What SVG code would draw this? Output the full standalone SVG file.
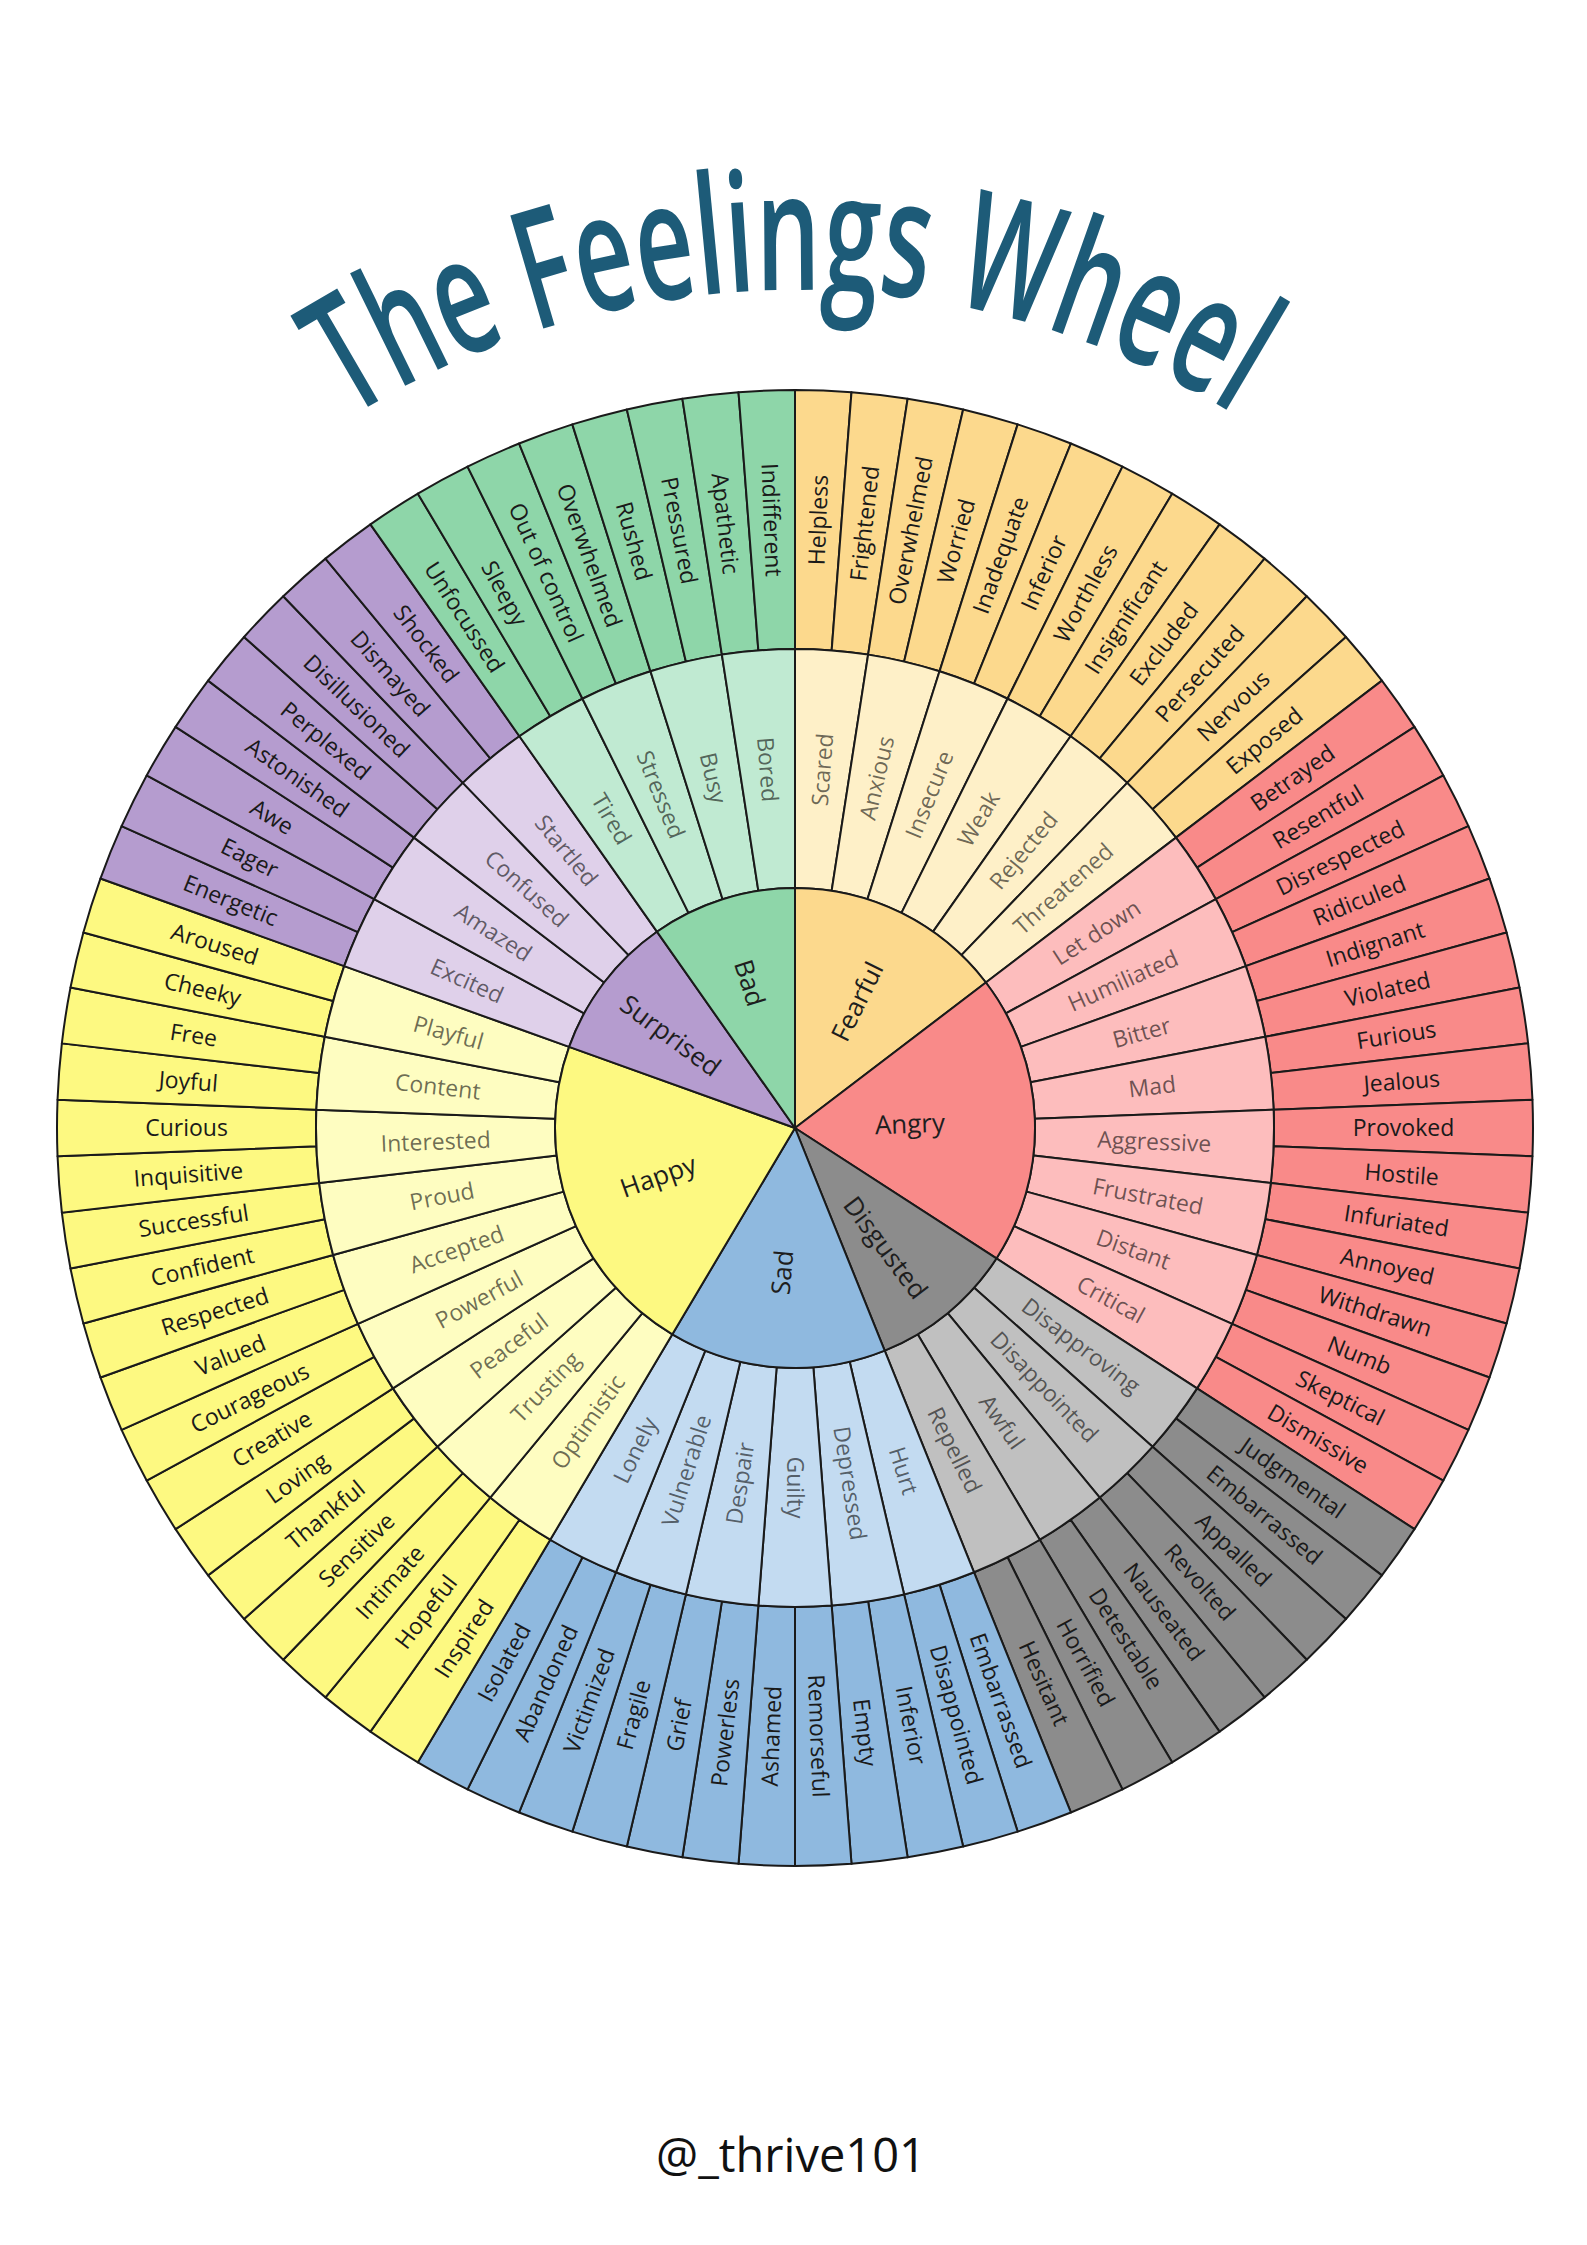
<svg xmlns="http://www.w3.org/2000/svg" xmlns:xlink="http://www.w3.org/1999/xlink" width="1587" height="2245" viewBox="0 0 1587 2245">
<style>
.w{stroke:#1a1a1a;stroke-width:2;stroke-linejoin:round}
.fe1{fill:#FCD98D}.fe2{fill:#FEF0C8}
.an1{fill:#F98A89}.an2{fill:#FDBDBD}
.di1{fill:#8C8C8C}.di2{fill:#C0C0C0}
.sa1{fill:#8FB9DF}.sa2{fill:#C3DBF1}
.ha1{fill:#FDF981}.ha2{fill:#FEFDC1}
.su1{fill:#B59CCF}.su2{fill:#DFD0EA}
.ba1{fill:#8ED6A9}.ba2{fill:#C0EAD2}
text{font-family:"Open Sans","Liberation Sans",sans-serif;text-anchor:middle}
.to{font-size:23px;fill:#1a1a1a}
.tm{font-size:23px;fill:#000;fill-opacity:0.58}
.ti{font-size:26px;fill:#1e1e1e}
</style>
<defs>
<path id="ow" d="M 766.732 390.542 A 738 738 0 0 1 823.268 390.542 L 813.347 649.352 A 479 479 0 0 0 776.653 649.352 Z"/>
<path id="mw" d="M 758.333 650.405 A 479 479 0 0 1 831.667 650.405 L 813.372 888.704 A 240 240 0 0 0 776.628 888.704 Z"/>
<path id="p8" d="M 795 1128 L 795 888 A 240 240 0 0 1 933.077 931.697 Z"/>
<path id="p12" d="M 795 1128 L 795 888 A 240 240 0 0 1 985.871 982.506 Z"/>
<path id="p16" d="M 795 1128 L 795 888 A 240 240 0 0 1 1020.876 1046.876 Z"/>
<path id="p18" d="M 795 1128 L 795 888 A 240 240 0 0 1 1030.610 1082.304 Z"/>
<path id="arc" d="M 256.34 486.06 A 838 838 0 0 1 1333.66 486.06" fill="none"/>
</defs>
<rect width="1587" height="2245" fill="#ffffff"/>

<g id="title">
<text font-size="165" font-weight="600" fill="#1D5B78"><textPath href="#arc" startOffset="49.6%" textLength="932" lengthAdjust="spacingAndGlyphs">The Feelings Wheel</textPath></text>
</g>

<g id="outer-ring">
<g id="o00" transform="rotate(2.195 795 1128)"><use href="#ow" class="fe1 w"/><text class="to" x="795" y="527.5" transform="rotate(-90 795 519.5)">Helpless</text></g>
<g id="o01" transform="rotate(6.585 795 1128)"><use href="#ow" class="fe1 w"/><text class="to" x="795" y="527.5" transform="rotate(-90 795 519.5)">Frightened</text></g>
<g id="o02" transform="rotate(10.976 795 1128)"><use href="#ow" class="fe1 w"/><text class="to" x="795" y="527.5" transform="rotate(-90 795 519.5)">Overwhelmed</text></g>
<g id="o03" transform="rotate(15.366 795 1128)"><use href="#ow" class="fe1 w"/><text class="to" x="795" y="527.5" transform="rotate(-90 795 519.5)">Worried</text></g>
<g id="o04" transform="rotate(19.756 795 1128)"><use href="#ow" class="fe1 w"/><text class="to" x="795" y="527.5" transform="rotate(-90 795 519.5)">Inadequate</text></g>
<g id="o05" transform="rotate(24.146 795 1128)"><use href="#ow" class="fe1 w"/><text class="to" x="795" y="527.5" transform="rotate(-90 795 519.5)">Inferior</text></g>
<g id="o06" transform="rotate(28.537 795 1128)"><use href="#ow" class="fe1 w"/><text class="to" x="795" y="527.5" transform="rotate(-90 795 519.5)">Worthless</text></g>
<g id="o07" transform="rotate(32.927 795 1128)"><use href="#ow" class="fe1 w"/><text class="to" x="795" y="527.5" transform="rotate(-90 795 519.5)">Insignificant</text></g>
<g id="o08" transform="rotate(37.317 795 1128)"><use href="#ow" class="fe1 w"/><text class="to" x="795" y="527.5" transform="rotate(-90 795 519.5)">Excluded</text></g>
<g id="o09" transform="rotate(41.707 795 1128)"><use href="#ow" class="fe1 w"/><text class="to" x="795" y="527.5" transform="rotate(-90 795 519.5)">Persecuted</text></g>
<g id="o10" transform="rotate(46.098 795 1128)"><use href="#ow" class="fe1 w"/><text class="to" x="795" y="527.5" transform="rotate(-90 795 519.5)">Nervous</text></g>
<g id="o11" transform="rotate(50.488 795 1128)"><use href="#ow" class="fe1 w"/><text class="to" x="795" y="527.5" transform="rotate(-90 795 519.5)">Exposed</text></g>
<g id="o12" transform="rotate(54.878 795 1128)"><use href="#ow" class="an1 w"/><text class="to" x="795" y="527.5" transform="rotate(-90 795 519.5)">Betrayed</text></g>
<g id="o13" transform="rotate(59.268 795 1128)"><use href="#ow" class="an1 w"/><text class="to" x="795" y="527.5" transform="rotate(-90 795 519.5)">Resentful</text></g>
<g id="o14" transform="rotate(63.659 795 1128)"><use href="#ow" class="an1 w"/><text class="to" x="795" y="527.5" transform="rotate(-90 795 519.5)">Disrespected</text></g>
<g id="o15" transform="rotate(68.049 795 1128)"><use href="#ow" class="an1 w"/><text class="to" x="795" y="527.5" transform="rotate(-90 795 519.5)">Ridiculed</text></g>
<g id="o16" transform="rotate(72.439 795 1128)"><use href="#ow" class="an1 w"/><text class="to" x="795" y="527.5" transform="rotate(-90 795 519.5)">Indignant</text></g>
<g id="o17" transform="rotate(76.829 795 1128)"><use href="#ow" class="an1 w"/><text class="to" x="795" y="527.5" transform="rotate(-90 795 519.5)">Violated</text></g>
<g id="o18" transform="rotate(81.220 795 1128)"><use href="#ow" class="an1 w"/><text class="to" x="795" y="527.5" transform="rotate(-90 795 519.5)">Furious</text></g>
<g id="o19" transform="rotate(85.610 795 1128)"><use href="#ow" class="an1 w"/><text class="to" x="795" y="527.5" transform="rotate(-90 795 519.5)">Jealous</text></g>
<g id="o20" transform="rotate(90.000 795 1128)"><use href="#ow" class="an1 w"/><text class="to" x="795" y="527.5" transform="rotate(-90 795 519.5)">Provoked</text></g>
<g id="o21" transform="rotate(94.390 795 1128)"><use href="#ow" class="an1 w"/><text class="to" x="795" y="527.5" transform="rotate(-90 795 519.5)">Hostile</text></g>
<g id="o22" transform="rotate(98.780 795 1128)"><use href="#ow" class="an1 w"/><text class="to" x="795" y="527.5" transform="rotate(-90 795 519.5)">Infuriated</text></g>
<g id="o23" transform="rotate(103.171 795 1128)"><use href="#ow" class="an1 w"/><text class="to" x="795" y="527.5" transform="rotate(-90 795 519.5)">Annoyed</text></g>
<g id="o24" transform="rotate(107.561 795 1128)"><use href="#ow" class="an1 w"/><text class="to" x="795" y="527.5" transform="rotate(-90 795 519.5)">Withdrawn</text></g>
<g id="o25" transform="rotate(111.951 795 1128)"><use href="#ow" class="an1 w"/><text class="to" x="795" y="527.5" transform="rotate(-90 795 519.5)">Numb</text></g>
<g id="o26" transform="rotate(116.341 795 1128)"><use href="#ow" class="an1 w"/><text class="to" x="795" y="527.5" transform="rotate(-90 795 519.5)">Skeptical</text></g>
<g id="o27" transform="rotate(120.732 795 1128)"><use href="#ow" class="an1 w"/><text class="to" x="795" y="527.5" transform="rotate(-90 795 519.5)">Dismissive</text></g>
<g id="o28" transform="rotate(125.122 795 1128)"><use href="#ow" class="di1 w"/><text class="to" x="795" y="527.5" transform="rotate(-90 795 519.5)">Judgmental</text></g>
<g id="o29" transform="rotate(129.512 795 1128)"><use href="#ow" class="di1 w"/><text class="to" x="795" y="527.5" transform="rotate(-90 795 519.5)">Embarrassed</text></g>
<g id="o30" transform="rotate(133.902 795 1128)"><use href="#ow" class="di1 w"/><text class="to" x="795" y="527.5" transform="rotate(-90 795 519.5)">Appalled</text></g>
<g id="o31" transform="rotate(138.293 795 1128)"><use href="#ow" class="di1 w"/><text class="to" x="795" y="527.5" transform="rotate(-90 795 519.5)">Revolted</text></g>
<g id="o32" transform="rotate(142.683 795 1128)"><use href="#ow" class="di1 w"/><text class="to" x="795" y="527.5" transform="rotate(-90 795 519.5)">Nauseated</text></g>
<g id="o33" transform="rotate(147.073 795 1128)"><use href="#ow" class="di1 w"/><text class="to" x="795" y="527.5" transform="rotate(-90 795 519.5)">Detestable</text></g>
<g id="o34" transform="rotate(151.463 795 1128)"><use href="#ow" class="di1 w"/><text class="to" x="795" y="527.5" transform="rotate(-90 795 519.5)">Horrified</text></g>
<g id="o35" transform="rotate(155.854 795 1128)"><use href="#ow" class="di1 w"/><text class="to" x="795" y="527.5" transform="rotate(-90 795 519.5)">Hesitant</text></g>
<g id="o36" transform="rotate(160.244 795 1128)"><use href="#ow" class="sa1 w"/><text class="to" x="795" y="527.5" transform="rotate(-90 795 519.5)">Embarrassed</text></g>
<g id="o37" transform="rotate(164.634 795 1128)"><use href="#ow" class="sa1 w"/><text class="to" x="795" y="527.5" transform="rotate(-90 795 519.5)">Disappointed</text></g>
<g id="o38" transform="rotate(169.024 795 1128)"><use href="#ow" class="sa1 w"/><text class="to" x="795" y="527.5" transform="rotate(-90 795 519.5)">Inferior</text></g>
<g id="o39" transform="rotate(173.415 795 1128)"><use href="#ow" class="sa1 w"/><text class="to" x="795" y="527.5" transform="rotate(-90 795 519.5)">Empty</text></g>
<g id="o40" transform="rotate(177.805 795 1128)"><use href="#ow" class="sa1 w"/><text class="to" x="795" y="527.5" transform="rotate(-90 795 519.5)">Remorseful</text></g>
<g id="o41" transform="rotate(182.195 795 1128)"><use href="#ow" class="sa1 w"/><text class="to" x="795" y="527.5" transform="rotate(90 795 519.5)">Ashamed</text></g>
<g id="o42" transform="rotate(186.585 795 1128)"><use href="#ow" class="sa1 w"/><text class="to" x="795" y="527.5" transform="rotate(90 795 519.5)">Powerless</text></g>
<g id="o43" transform="rotate(190.976 795 1128)"><use href="#ow" class="sa1 w"/><text class="to" x="795" y="527.5" transform="rotate(90 795 519.5)">Grief</text></g>
<g id="o44" transform="rotate(195.366 795 1128)"><use href="#ow" class="sa1 w"/><text class="to" x="795" y="527.5" transform="rotate(90 795 519.5)">Fragile</text></g>
<g id="o45" transform="rotate(199.756 795 1128)"><use href="#ow" class="sa1 w"/><text class="to" x="795" y="527.5" transform="rotate(90 795 519.5)">Victimized</text></g>
<g id="o46" transform="rotate(204.146 795 1128)"><use href="#ow" class="sa1 w"/><text class="to" x="795" y="527.5" transform="rotate(90 795 519.5)">Abandoned</text></g>
<g id="o47" transform="rotate(208.537 795 1128)"><use href="#ow" class="sa1 w"/><text class="to" x="795" y="527.5" transform="rotate(90 795 519.5)">Isolated</text></g>
<g id="o48" transform="rotate(212.927 795 1128)"><use href="#ow" class="ha1 w"/><text class="to" x="795" y="527.5" transform="rotate(90 795 519.5)">Inspired</text></g>
<g id="o49" transform="rotate(217.317 795 1128)"><use href="#ow" class="ha1 w"/><text class="to" x="795" y="527.5" transform="rotate(90 795 519.5)">Hopeful</text></g>
<g id="o50" transform="rotate(221.707 795 1128)"><use href="#ow" class="ha1 w"/><text class="to" x="795" y="527.5" transform="rotate(90 795 519.5)">Intimate</text></g>
<g id="o51" transform="rotate(226.098 795 1128)"><use href="#ow" class="ha1 w"/><text class="to" x="795" y="527.5" transform="rotate(90 795 519.5)">Sensitive</text></g>
<g id="o52" transform="rotate(230.488 795 1128)"><use href="#ow" class="ha1 w"/><text class="to" x="795" y="527.5" transform="rotate(90 795 519.5)">Thankful</text></g>
<g id="o53" transform="rotate(234.878 795 1128)"><use href="#ow" class="ha1 w"/><text class="to" x="795" y="527.5" transform="rotate(90 795 519.5)">Loving</text></g>
<g id="o54" transform="rotate(239.268 795 1128)"><use href="#ow" class="ha1 w"/><text class="to" x="795" y="527.5" transform="rotate(90 795 519.5)">Creative</text></g>
<g id="o55" transform="rotate(243.659 795 1128)"><use href="#ow" class="ha1 w"/><text class="to" x="795" y="527.5" transform="rotate(90 795 519.5)">Courageous</text></g>
<g id="o56" transform="rotate(248.049 795 1128)"><use href="#ow" class="ha1 w"/><text class="to" x="795" y="527.5" transform="rotate(90 795 519.5)">Valued</text></g>
<g id="o57" transform="rotate(252.439 795 1128)"><use href="#ow" class="ha1 w"/><text class="to" x="795" y="527.5" transform="rotate(90 795 519.5)">Respected</text></g>
<g id="o58" transform="rotate(256.829 795 1128)"><use href="#ow" class="ha1 w"/><text class="to" x="795" y="527.5" transform="rotate(90 795 519.5)">Confident</text></g>
<g id="o59" transform="rotate(261.220 795 1128)"><use href="#ow" class="ha1 w"/><text class="to" x="795" y="527.5" transform="rotate(90 795 519.5)">Successful</text></g>
<g id="o60" transform="rotate(265.610 795 1128)"><use href="#ow" class="ha1 w"/><text class="to" x="795" y="527.5" transform="rotate(90 795 519.5)">Inquisitive</text></g>
<g id="o61" transform="rotate(270.000 795 1128)"><use href="#ow" class="ha1 w"/><text class="to" x="795" y="527.5" transform="rotate(90 795 519.5)">Curious</text></g>
<g id="o62" transform="rotate(274.390 795 1128)"><use href="#ow" class="ha1 w"/><text class="to" x="795" y="527.5" transform="rotate(90 795 519.5)">Joyful</text></g>
<g id="o63" transform="rotate(278.780 795 1128)"><use href="#ow" class="ha1 w"/><text class="to" x="795" y="527.5" transform="rotate(90 795 519.5)">Free</text></g>
<g id="o64" transform="rotate(283.171 795 1128)"><use href="#ow" class="ha1 w"/><text class="to" x="795" y="527.5" transform="rotate(90 795 519.5)">Cheeky</text></g>
<g id="o65" transform="rotate(287.561 795 1128)"><use href="#ow" class="ha1 w"/><text class="to" x="795" y="527.5" transform="rotate(90 795 519.5)">Aroused</text></g>
<g id="o66" transform="rotate(291.951 795 1128)"><use href="#ow" class="su1 w"/><text class="to" x="795" y="527.5" transform="rotate(90 795 519.5)">Energetic</text></g>
<g id="o67" transform="rotate(296.341 795 1128)"><use href="#ow" class="su1 w"/><text class="to" x="795" y="527.5" transform="rotate(90 795 519.5)">Eager</text></g>
<g id="o68" transform="rotate(300.732 795 1128)"><use href="#ow" class="su1 w"/><text class="to" x="795" y="527.5" transform="rotate(90 795 519.5)">Awe</text></g>
<g id="o69" transform="rotate(305.122 795 1128)"><use href="#ow" class="su1 w"/><text class="to" x="795" y="527.5" transform="rotate(90 795 519.5)">Astonished</text></g>
<g id="o70" transform="rotate(309.512 795 1128)"><use href="#ow" class="su1 w"/><text class="to" x="795" y="527.5" transform="rotate(90 795 519.5)">Perplexed</text></g>
<g id="o71" transform="rotate(313.902 795 1128)"><use href="#ow" class="su1 w"/><text class="to" x="795" y="527.5" transform="rotate(90 795 519.5)">Disillusioned</text></g>
<g id="o72" transform="rotate(318.293 795 1128)"><use href="#ow" class="su1 w"/><text class="to" x="795" y="527.5" transform="rotate(90 795 519.5)">Dismayed</text></g>
<g id="o73" transform="rotate(322.683 795 1128)"><use href="#ow" class="su1 w"/><text class="to" x="795" y="527.5" transform="rotate(90 795 519.5)">Shocked</text></g>
<g id="o74" transform="rotate(327.073 795 1128)"><use href="#ow" class="ba1 w"/><text class="to" x="795" y="527.5" transform="rotate(90 795 519.5)">Unfocussed</text></g>
<g id="o75" transform="rotate(331.463 795 1128)"><use href="#ow" class="ba1 w"/><text class="to" x="795" y="527.5" transform="rotate(90 795 519.5)">Sleepy</text></g>
<g id="o76" transform="rotate(335.854 795 1128)"><use href="#ow" class="ba1 w"/><text class="to" x="795" y="527.5" transform="rotate(90 795 519.5)">Out of control</text></g>
<g id="o77" transform="rotate(340.244 795 1128)"><use href="#ow" class="ba1 w"/><text class="to" x="795" y="527.5" transform="rotate(90 795 519.5)">Overwhelmed</text></g>
<g id="o78" transform="rotate(344.634 795 1128)"><use href="#ow" class="ba1 w"/><text class="to" x="795" y="527.5" transform="rotate(90 795 519.5)">Rushed</text></g>
<g id="o79" transform="rotate(349.024 795 1128)"><use href="#ow" class="ba1 w"/><text class="to" x="795" y="527.5" transform="rotate(90 795 519.5)">Pressured</text></g>
<g id="o80" transform="rotate(353.415 795 1128)"><use href="#ow" class="ba1 w"/><text class="to" x="795" y="527.5" transform="rotate(90 795 519.5)">Apathetic</text></g>
<g id="o81" transform="rotate(357.805 795 1128)"><use href="#ow" class="ba1 w"/><text class="to" x="795" y="527.5" transform="rotate(90 795 519.5)">Indifferent</text></g>
</g>

<g id="middle-ring">
<g id="m00" transform="rotate(4.390 795 1128)"><use href="#mw" class="fe2 w"/><text class="tm" x="795" y="776.5" transform="rotate(-90 795 768.5)">Scared</text></g>
<g id="m01" transform="rotate(13.171 795 1128)"><use href="#mw" class="fe2 w"/><text class="tm" x="795" y="776.5" transform="rotate(-90 795 768.5)">Anxious</text></g>
<g id="m02" transform="rotate(21.951 795 1128)"><use href="#mw" class="fe2 w"/><text class="tm" x="795" y="776.5" transform="rotate(-90 795 768.5)">Insecure</text></g>
<g id="m03" transform="rotate(30.732 795 1128)"><use href="#mw" class="fe2 w"/><text class="tm" x="795" y="776.5" transform="rotate(-90 795 768.5)">Weak</text></g>
<g id="m04" transform="rotate(39.512 795 1128)"><use href="#mw" class="fe2 w"/><text class="tm" x="795" y="776.5" transform="rotate(-90 795 768.5)">Rejected</text></g>
<g id="m05" transform="rotate(48.293 795 1128)"><use href="#mw" class="fe2 w"/><text class="tm" x="795" y="776.5" transform="rotate(-90 795 768.5)">Threatened</text></g>
<g id="m06" transform="rotate(57.073 795 1128)"><use href="#mw" class="an2 w"/><text class="tm" x="795" y="776.5" transform="rotate(-90 795 768.5)">Let down</text></g>
<g id="m07" transform="rotate(65.854 795 1128)"><use href="#mw" class="an2 w"/><text class="tm" x="795" y="776.5" transform="rotate(-90 795 768.5)">Humiliated</text></g>
<g id="m08" transform="rotate(74.634 795 1128)"><use href="#mw" class="an2 w"/><text class="tm" x="795" y="776.5" transform="rotate(-90 795 768.5)">Bitter</text></g>
<g id="m09" transform="rotate(83.415 795 1128)"><use href="#mw" class="an2 w"/><text class="tm" x="795" y="776.5" transform="rotate(-90 795 768.5)">Mad</text></g>
<g id="m10" transform="rotate(92.195 795 1128)"><use href="#mw" class="an2 w"/><text class="tm" x="795" y="776.5" transform="rotate(-90 795 768.5)">Aggressive</text></g>
<g id="m11" transform="rotate(100.976 795 1128)"><use href="#mw" class="an2 w"/><text class="tm" x="795" y="776.5" transform="rotate(-90 795 768.5)">Frustrated</text></g>
<g id="m12" transform="rotate(109.756 795 1128)"><use href="#mw" class="an2 w"/><text class="tm" x="795" y="776.5" transform="rotate(-90 795 768.5)">Distant</text></g>
<g id="m13" transform="rotate(118.537 795 1128)"><use href="#mw" class="an2 w"/><text class="tm" x="795" y="776.5" transform="rotate(-90 795 768.5)">Critical</text></g>
<g id="m14" transform="rotate(127.317 795 1128)"><use href="#mw" class="di2 w"/><text class="tm" x="795" y="776.5" transform="rotate(-90 795 768.5)">Disapproving</text></g>
<g id="m15" transform="rotate(136.098 795 1128)"><use href="#mw" class="di2 w"/><text class="tm" x="795" y="776.5" transform="rotate(-90 795 768.5)">Disappointed</text></g>
<g id="m16" transform="rotate(144.878 795 1128)"><use href="#mw" class="di2 w"/><text class="tm" x="795" y="776.5" transform="rotate(-90 795 768.5)">Awful</text></g>
<g id="m17" transform="rotate(153.659 795 1128)"><use href="#mw" class="di2 w"/><text class="tm" x="795" y="776.5" transform="rotate(-90 795 768.5)">Repelled</text></g>
<g id="m18" transform="rotate(162.439 795 1128)"><use href="#mw" class="sa2 w"/><text class="tm" x="795" y="776.5" transform="rotate(-90 795 768.5)">Hurt</text></g>
<g id="m19" transform="rotate(171.220 795 1128)"><use href="#mw" class="sa2 w"/><text class="tm" x="795" y="776.5" transform="rotate(-90 795 768.5)">Depressed</text></g>
<g id="m20" transform="rotate(180.000 795 1128)"><use href="#mw" class="sa2 w"/><text class="tm" x="795" y="776.5" transform="rotate(-90 795 768.5)">Guilty</text></g>
<g id="m21" transform="rotate(188.780 795 1128)"><use href="#mw" class="sa2 w"/><text class="tm" x="795" y="776.5" transform="rotate(90 795 768.5)">Despair</text></g>
<g id="m22" transform="rotate(197.561 795 1128)"><use href="#mw" class="sa2 w"/><text class="tm" x="795" y="776.5" transform="rotate(90 795 768.5)">Vulnerable</text></g>
<g id="m23" transform="rotate(206.341 795 1128)"><use href="#mw" class="sa2 w"/><text class="tm" x="795" y="776.5" transform="rotate(90 795 768.5)">Lonely</text></g>
<g id="m24" transform="rotate(215.122 795 1128)"><use href="#mw" class="ha2 w"/><text class="tm" x="795" y="776.5" transform="rotate(90 795 768.5)">Optimistic</text></g>
<g id="m25" transform="rotate(223.902 795 1128)"><use href="#mw" class="ha2 w"/><text class="tm" x="795" y="776.5" transform="rotate(90 795 768.5)">Trusting</text></g>
<g id="m26" transform="rotate(232.683 795 1128)"><use href="#mw" class="ha2 w"/><text class="tm" x="795" y="776.5" transform="rotate(90 795 768.5)">Peaceful</text></g>
<g id="m27" transform="rotate(241.463 795 1128)"><use href="#mw" class="ha2 w"/><text class="tm" x="795" y="776.5" transform="rotate(90 795 768.5)">Powerful</text></g>
<g id="m28" transform="rotate(250.244 795 1128)"><use href="#mw" class="ha2 w"/><text class="tm" x="795" y="776.5" transform="rotate(90 795 768.5)">Accepted</text></g>
<g id="m29" transform="rotate(259.024 795 1128)"><use href="#mw" class="ha2 w"/><text class="tm" x="795" y="776.5" transform="rotate(90 795 768.5)">Proud</text></g>
<g id="m30" transform="rotate(267.805 795 1128)"><use href="#mw" class="ha2 w"/><text class="tm" x="795" y="776.5" transform="rotate(90 795 768.5)">Interested</text></g>
<g id="m31" transform="rotate(276.585 795 1128)"><use href="#mw" class="ha2 w"/><text class="tm" x="795" y="776.5" transform="rotate(90 795 768.5)">Content</text></g>
<g id="m32" transform="rotate(285.366 795 1128)"><use href="#mw" class="ha2 w"/><text class="tm" x="795" y="776.5" transform="rotate(90 795 768.5)">Playful</text></g>
<g id="m33" transform="rotate(294.146 795 1128)"><use href="#mw" class="su2 w"/><text class="tm" x="795" y="776.5" transform="rotate(90 795 768.5)">Excited</text></g>
<g id="m34" transform="rotate(302.927 795 1128)"><use href="#mw" class="su2 w"/><text class="tm" x="795" y="776.5" transform="rotate(90 795 768.5)">Amazed</text></g>
<g id="m35" transform="rotate(311.707 795 1128)"><use href="#mw" class="su2 w"/><text class="tm" x="795" y="776.5" transform="rotate(90 795 768.5)">Confused</text></g>
<g id="m36" transform="rotate(320.488 795 1128)"><use href="#mw" class="su2 w"/><text class="tm" x="795" y="776.5" transform="rotate(90 795 768.5)">Startled</text></g>
<g id="m37" transform="rotate(329.268 795 1128)"><use href="#mw" class="ba2 w"/><text class="tm" x="795" y="776.5" transform="rotate(90 795 768.5)">Tired</text></g>
<g id="m38" transform="rotate(338.049 795 1128)"><use href="#mw" class="ba2 w"/><text class="tm" x="795" y="776.5" transform="rotate(90 795 768.5)">Stressed</text></g>
<g id="m39" transform="rotate(346.829 795 1128)"><use href="#mw" class="ba2 w"/><text class="tm" x="795" y="776.5" transform="rotate(90 795 768.5)">Busy</text></g>
<g id="m40" transform="rotate(355.610 795 1128)"><use href="#mw" class="ba2 w"/><text class="tm" x="795" y="776.5" transform="rotate(90 795 768.5)">Bored</text></g>
</g>

<g id="core">
<g id="fearful"><use href="#p12" class="fe1 w"/><text class="ti" x="857.5" y="1010.6" transform="rotate(-63.7 857.5 1001.6)">Fearful</text></g>
<g id="angry"><use href="#p16" class="an1 w" transform="rotate(52.683 795 1128)"/><text class="ti" x="909.9" y="1133" transform="rotate(-2 909.9 1124)">Angry</text></g>
<g id="disgusted"><use href="#p8" class="di1 w" transform="rotate(122.927 795 1128)"/><text class="ti" x="885.3" y="1256.8" transform="rotate(53 885.3 1247.8)">Disgusted</text></g>
<g id="sad"><use href="#p12" class="sa1 w" transform="rotate(158.049 795 1128)"/><text class="ti" x="782.4" y="1281.4" transform="rotate(-85 782.4 1272.4)">Sad</text></g>
<g id="happy"><use href="#p18" class="ha1 w" transform="rotate(210.732 795 1128)"/><text class="ti" x="658.3" y="1185.4" transform="rotate(-19.5 658.3 1176.4)">Happy</text></g>
<g id="surprised"><use href="#p8" class="su1 w" transform="rotate(289.756 795 1128)"/><text class="ti" x="670.4" y="1044.8" transform="rotate(36.5 670.4 1035.8)">Surprised</text></g>
<g id="bad"><use href="#p8" class="ba1 w" transform="rotate(324.878 795 1128)"/><text class="ti" x="749.5" y="992" transform="rotate(72.6 749.5 983)">Bad</text></g>
</g>

<g id="footer">
<text x="791" y="2172" font-size="47" fill="#111">@_thrive101</text>
</g>
</svg>
